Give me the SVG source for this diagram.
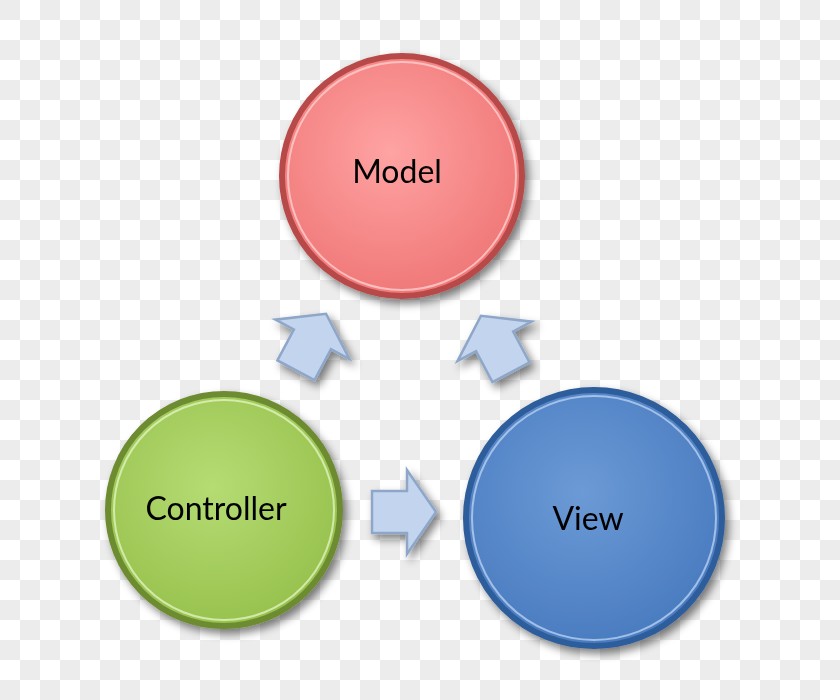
<svg xmlns="http://www.w3.org/2000/svg" width="840" height="700" viewBox="0 0 840 700">
<defs>
<pattern id="chk" width="40" height="40" patternUnits="userSpaceOnUse"><rect width="40" height="40" fill="#ffffff"/><rect width="20" height="20" fill="#ececec"/><rect x="20" y="20" width="20" height="20" fill="#ececec"/></pattern>
<radialGradient id="gm" cx="0.45" cy="0.4" r="0.6"><stop offset="0" stop-color="#ffa3a3"/><stop offset="1" stop-color="#f07878"/></radialGradient>
<radialGradient id="gc" cx="0.45" cy="0.4" r="0.6"><stop offset="0" stop-color="#b5dc74"/><stop offset="1" stop-color="#98c24e"/></radialGradient>
<radialGradient id="gv" cx="0.45" cy="0.4" r="0.6"><stop offset="0" stop-color="#6c9ad6"/><stop offset="1" stop-color="#4a7cc0"/></radialGradient>
<filter id="sh" x="-20%" y="-20%" width="140%" height="140%"><feGaussianBlur in="SourceAlpha" stdDeviation="4"/><feOffset dx="4" dy="5"/><feComponentTransfer><feFuncA type="linear" slope="0.5"/></feComponentTransfer><feMerge><feMergeNode/><feMergeNode in="SourceGraphic"/></feMerge></filter>
<path id="arr" d="M-32,-21 L3,-21 L3,-42 L32,0 L3,42 L3,21 L-32,21 Z"/>
</defs>
<style>
.t{font-family:Lato,"Open Sans",sans-serif;font-size:32px;fill:#000;text-anchor:middle}
.a{fill:#c3d4ee;stroke:#8ea6c8;stroke-width:2.5;stroke-linejoin:miter}
</style>
<rect width="840" height="700" fill="url(#chk)"/>
<g id="connectors" filter="url(#sh)">
<use href="#arr" class="a" transform="translate(404,512)"/>
<use href="#arr" class="a" transform="translate(311,342) rotate(-62)"/>
<use href="#arr" class="a" transform="translate(496,344) rotate(-118)"/>
</g>
<g id="model" filter="url(#sh)">
<circle cx="402" cy="176" r="120" fill="url(#gm)" stroke="#b84a4a" stroke-width="6"/>
<circle cx="402" cy="176" r="114" fill="none" stroke="#ffd0d0" stroke-width="2" opacity="0.8"/>
<text class="t" x="397" y="183">Model</text>
</g>
<g id="controller" filter="url(#sh)">
<circle cx="224" cy="510" r="116" fill="url(#gc)" stroke="#6d8c30" stroke-width="6"/>
<circle cx="224" cy="510" r="110" fill="none" stroke="#e0f2bf" stroke-width="2" opacity="0.8"/>
<text class="t" x="216" y="520">Controller</text>
</g>
<g id="view" filter="url(#sh)">
<circle cx="594" cy="518" r="128" fill="url(#gv)" stroke="#2f5d9c" stroke-width="6"/>
<circle cx="594" cy="518" r="122" fill="none" stroke="#b7cff0" stroke-width="2" opacity="0.8"/>
<text class="t" x="588" y="530">View</text>
</g>
</svg>
